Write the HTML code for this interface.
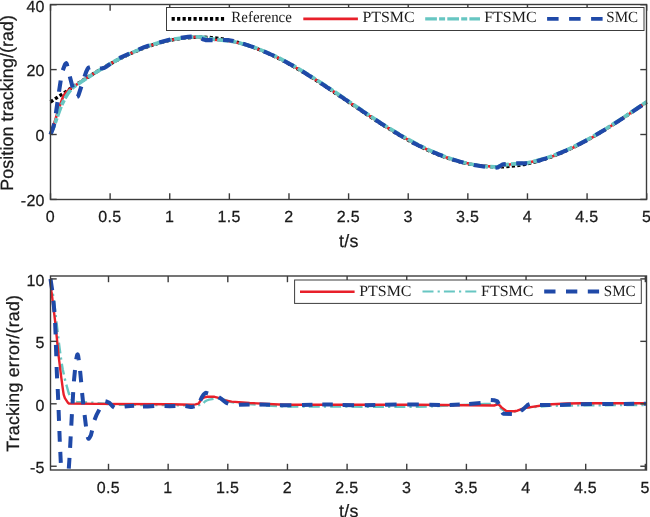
<!DOCTYPE html>
<html><head><meta charset="utf-8"><style>
html,body{margin:0;padding:0;background:#fff;width:650px;height:517px;overflow:hidden}
svg{display:block;filter:blur(0.35px)}
</style></head><body>
<svg width="650" height="517" viewBox="0 0 650 517" style="text-rendering:geometricPrecision">
<defs>
<clipPath id="ct"><rect x="48.0" y="3.5" width="601.00" height="197.00"/></clipPath>
<clipPath id="cb"><rect x="48.0" y="275.0" width="601.00" height="195.00"/></clipPath>
</defs>
<rect width="650" height="517" fill="#fff"/>
<!-- top curves -->
<g clip-path="url(#ct)" fill="none" stroke-linejoin="round">
<polyline points="50.5,102.0 78.0,83.5 88.6,76.7 98.3,70.7 107.8,65.2 116.8,60.3 125.6,55.9 134.0,52.0 142.3,48.6 150.7,45.6 159.0,43.0 167.4,40.8 175.7,39.2 183.5,38.1 191.8,37.4 199.5,37.1 207.9,37.4 216.8,38.2 225.2,39.5 234.1,41.4 242.5,43.7 251.4,46.6 260.4,50.0 269.9,54.2 278.8,58.5 287.8,63.2 297.3,68.7 306.9,74.4 326.5,87.1 365.3,113.4 380.8,123.6 397.5,134.0 412.4,142.5 421.3,147.1 429.7,151.0 438.0,154.6 445.8,157.5 454.1,160.2 461.9,162.4 469.6,164.1 477.4,165.5 486.9,166.5 495.9,166.9 504.8,166.8 514.3,165.9 523.9,164.5 533.4,162.4 543.0,159.7 552.5,156.4 562.0,152.6 572.2,147.9 582.3,142.8 593.0,136.8 603.8,130.4 615.7,122.9 646.7,102.1" stroke="#000" stroke-width="3.4" stroke-dasharray="3.2 2.28"/>
<polyline points="50.5,134.5 51.5,130.5 55.2,120.2 58.8,108.5 63.1,96.8 63.8,95.4 64.9,93.7 69.0,89.6 88.2,76.9 105.3,66.6 113.3,62.1 121.0,58.1 128.6,54.4 135.8,51.2 142.9,48.3 150.1,45.7 157.2,43.4 163.8,41.6 170.9,40.0 178.7,38.6 185.2,37.7 191.8,37.1 198.4,37.2 201.3,38.3 204.3,38.9 213.3,39.7 225.2,40.4 234.1,41.9 242.5,44.0 251.4,46.8 260.4,50.1 269.9,54.1 278.8,58.3 287.2,62.7 296.7,68.1 306.9,74.2 326.5,86.8 365.3,113.1 380.8,123.4 397.5,133.8 412.4,142.2 421.3,146.8 429.7,150.7 438.0,154.2 445.8,157.2 454.1,159.9 461.9,162.0 469.6,163.7 477.4,165.1 486.9,166.1 497.6,166.8 498.8,166.7 506.6,164.8 523.9,163.3 531.0,162.1 543.6,159.1 548.9,157.5 554.3,155.7 563.8,151.8 573.4,147.5 582.9,142.6 593.0,137.0 603.8,130.6 615.7,123.0 646.7,102.2" stroke="#e8202a" stroke-width="2.6"/>
<path d="M50.5 134.5L51.9 131.0 53.6 127.5 54.5 125.0M55.1 123.2L56.8 118.2M57.4 116.3L61.0 106.7M61.7 104.9L64.1 100.1M65.0 98.4L68.4 92.9 70.7 89.9M72.0 88.4L73.2 87.3 76.2 85.2M77.8 84.1L86.4 78.5M88.0 77.4L92.5 74.6M94.1 73.5L104.2 67.3M106.1 66.2L111.4 63.1M113.3 62.0L123.4 56.7M125.3 55.8L130.6 53.3M132.5 52.4L143.4 47.9M145.5 47.1L151.2 45.1M153.3 44.4L164.2 41.3M166.3 40.8L172.0 39.5M174.1 39.1L185.4 37.5M187.6 37.3L193.4 36.9M195.6 36.8L203.1 37.1 204.3 37.7 207.0 38.2M209.1 38.6L215.0 39.3M217.2 39.6L228.7 40.8M230.8 41.1L236.6 42.3M238.7 42.8L249.8 45.9M251.9 46.6L257.5 48.6M259.5 49.4L269.9 53.7M271.9 54.6L277.1 57.0M279.0 58.0L289.1 63.3M291.0 64.3L296.0 67.2M297.9 68.3L308.2 74.5M310.1 75.7L315.3 79.0M317.2 80.2L326.5 86.4M328.3 87.5L333.1 90.7M334.8 91.9L344.6 98.6M346.4 99.8L351.5 103.2M353.3 104.5L362.7 110.9M364.4 112.0L369.2 115.3M371.0 116.5L380.7 122.8M382.6 124.0L387.6 127.2M389.5 128.4L399.2 134.2M401.0 135.3L406.0 138.2M407.9 139.2L418.0 144.7M420.0 145.6L425.2 148.2M427.2 149.2L438.1 154.0M440.1 154.8L445.8 157.0M447.9 157.8L458.8 161.2M460.9 161.8L466.6 163.2M468.7 163.7L480.0 165.7M482.2 166.0L488.0 166.6M490.2 166.7L494.7 166.9 497.1 166.8 498.2 166.6 501.2 165.6M503.2 165.2L508.9 164.4M511.0 164.2L522.9 163.3M525.1 163.2L531.1 162.1M533.3 161.6L544.4 158.6M546.5 158.0L552.1 156.1M554.1 155.3L564.8 150.9M566.8 150.0L572.2 147.5M574.2 146.5L584.5 141.2M586.4 140.2L591.6 137.3M593.5 136.2L603.4 130.3M605.2 129.2L610.2 126.1M612.0 124.9L621.9 118.5M623.8 117.2L628.9 113.9M630.7 112.6L640.4 106.0M642.2 104.8L646.7 101.7" stroke="#67c6c2" stroke-width="3.7"/>
<path d="M50.5 134.5L52.6 129.3 54.3 123.7M55.9 113.4L57.5 102.1M59.0 91.8L60.7 80.5M62.8 70.3L64.6 65.5 65.2 64.1 65.9 63.4 66.2 63.2 66.6 63.7 67.4 66.4M69.8 76.5L72.7 87.6M77.1 96.8L77.8 96.5 78.5 95.1 81.3 86.5M84.5 76.6L86.4 71.3 87.8 68.5 88.5 67.7 90.0 67.2M100.0 68.5L102.8 68.2 104.5 67.7 107.1 66.2 110.3 63.8M119.2 58.2L129.3 53.6M138.5 49.6L144.1 47.2 149.2 45.4M159.2 42.4L165.6 40.7 170.4 39.5M180.8 37.9L188.2 36.9 191.8 36.6M201.5 38.7L203.7 39.6 205.5 40.1 212.6 40.1M223.0 40.0L227.6 40.1 233.6 41.1M243.0 43.6L254.0 47.4M263.8 51.3L274.4 56.0M283.8 60.7L293.6 66.1M302.3 71.3L312.0 77.4M320.8 83.1L330.4 89.5M339.2 95.4L348.9 101.9M357.7 107.9L366.9 114.1M375.4 119.8L385.0 126.0M393.8 131.6L403.4 137.3M412.3 142.3L422.7 147.5M432.3 151.9L442.7 156.0M452.3 159.4L463.4 162.6M473.8 164.9L485.1 166.8M495.4 167.8L497.6 167.5 501.8 164.9 503.0 164.3 505.8 164.1M516.2 163.3L521.5 163.2 527.2 163.4M536.9 161.2L547.4 157.9M556.9 154.4L567.6 149.9M577.2 145.3L587.0 140.1M595.8 135.1L605.6 129.2M614.5 123.6L623.8 117.6M632.2 111.9L641.7 105.5" stroke="#1f49a8" stroke-width="4.1"/>
</g>
<!-- bottom curves -->
<g clip-path="url(#cb)" fill="none" stroke-linejoin="round">
<polyline points="50.5,278.9 51.9,288.7 53.8,299.0 59.2,345.2 61.2,360.1 62.7,369.2 65.3,380.9 68.6,392.8 69.6,395.4 70.9,398.3 72.5,400.9 73.3,401.6 77.0,402.0 89.0,402.4 112.1,404.3 119.7,404.8 194.8,405.3 199.0,405.0 203.1,404.0 204.3,402.1 204.9,401.6 206.7,400.5 209.1,399.6 213.9,398.8 218.0,398.6 220.4,398.8 224.0,399.6 230.0,401.9 238.3,403.2 271.7,405.9 280.6,406.3 289.0,406.5 414.8,406.8 432.7,406.3 484.5,404.0 494.1,403.8 495.9,404.1 497.6,404.7 498.8,405.8 501.2,408.7 502.4,409.7 506.6,411.4 509.6,411.9 513.7,411.6 519.1,410.7 520.3,410.3 523.9,408.4 526.3,407.8 531.0,407.3 549.5,405.8 575.2,405.4 646.7,405.0" stroke="#67c6c2" stroke-width="2.4" stroke-dasharray="11 4.1 2.2 4.1"/>
<polyline points="50.5,278.9 51.5,291.7 55.2,321.8 58.7,356.7 61.0,375.4 63.1,390.8 63.7,394.6 64.9,398.2 68.0,402.8 68.9,403.5 96.4,403.9 170.3,404.2 192.4,404.8 195.4,404.4 198.4,403.6 199.0,403.0 201.3,399.4 202.5,398.4 204.3,397.4 207.3,396.8 212.1,396.6 214.5,396.8 218.6,397.9 225.2,400.5 231.7,401.6 249.6,403.0 284.2,404.7 416.0,404.8 494.1,405.5 497.6,404.4 498.2,404.5 499.4,405.2 501.8,407.6 506.0,410.8 507.2,411.2 514.3,411.2 517.3,410.7 523.3,408.5 525.7,407.9 546.5,404.8 551.9,404.2 567.4,403.5 581.1,403.2 646.7,403.2" stroke="#e8202a" stroke-width="2.4"/>
<path d="M50.5 278.9L52.2 290.2M53.4 300.8L54.4 312.2M55.1 322.8L55.6 334.3M55.9 344.9L56.3 356.3M56.6 367.0L57.1 378.4M57.7 389.0L58.2 399.9M58.6 410.0L59.0 420.9M59.4 431.0L59.8 441.8M60.3 451.9L60.8 462.8M61.4 472.9L62.0 483.7M62.8 493.8L64.1 504.6M66.4 510.6L67.3 499.8M67.8 489.7L68.3 478.8M68.8 468.7L69.5 457.9M70.1 447.8L70.7 436.3M71.3 425.7L71.9 414.2M72.6 403.5L73.2 392.1M73.9 381.4L75.0 370.0M76.2 359.4L77.0 355.4 77.3 354.6 77.6 354.3 78.2 355.9 78.8 360.3M80.1 370.9L81.2 382.3M82.1 393.0L83.3 404.4M84.6 415.0L86.0 426.4M87.7 436.9L88.1 438.3 88.4 438.8 88.9 438.6 89.5 437.8 90.9 435.2 92.1 430.4M94.5 420.0L96.7 414.6 99.3 409.6M105.4 401.3L107.1 401.7 109.4 402.8 112.9 406.6 114.3 407.5M124.6 406.6L130.4 405.9 134.1 405.7M143.0 406.4L147.7 406.5 154.2 405.9M164.6 406.0L169.7 406.3 175.4 406.0M185.4 406.1L190.6 406.9 192.4 406.9 194.6 406.4M200.3 400.6L201.9 397.1 203.7 394.5 204.9 393.3 205.5 392.9 206.1 392.8 208.1 393.4M218.8 397.1L221.0 398.6 225.8 402.5 227.0 403.1 228.3 403.6M239.0 404.8L249.6 404.5M259.5 404.5L270.1 404.8M279.9 405.2L291.4 405.3M302.0 405.0L312.5 404.7M322.3 404.4L332.8 404.5M342.6 404.9L354.1 405.2M364.8 405.3L375.3 405.1M385.1 404.8L396.6 404.6M407.3 404.4L418.8 404.6M429.4 404.8L439.9 405.0M449.7 405.0L459.8 404.5M469.2 404.0L480.6 403.0M490.8 400.1L494.1 400.3 497.1 401.1 497.6 401.7 498.7 404.1M502.3 412.4L503.0 413.5 503.6 413.8 511.9 414.0M520.8 410.9L522.7 409.6 527.5 405.1 528.7 404.4 529.6 404.1M540.0 405.0L550.4 405.0M560.0 404.9L570.8 404.5M580.8 404.3L591.9 404.1M602.3 404.0L613.4 403.9M623.8 403.9L634.2 403.8M643.8 403.8L646.7 403.8" stroke="#1f49a8" stroke-width="4"/>
</g>
<!-- axes -->
<g stroke="#3c3c3c" stroke-width="1.4" fill="none">
<rect x="50.5" y="4.5" width="596.00" height="195.00"/>
<rect x="50.5" y="276.0" width="596.00" height="194.00"/>
<line x1="50.50" y1="199.5" x2="50.50" y2="193.30"/>
<line x1="50.50" y1="4.5" x2="50.50" y2="10.70"/>
<line x1="110.12" y1="199.5" x2="110.12" y2="193.30"/>
<line x1="110.12" y1="4.5" x2="110.12" y2="10.70"/>
<line x1="169.74" y1="199.5" x2="169.74" y2="193.30"/>
<line x1="169.74" y1="4.5" x2="169.74" y2="10.70"/>
<line x1="229.36" y1="199.5" x2="229.36" y2="193.30"/>
<line x1="229.36" y1="4.5" x2="229.36" y2="10.70"/>
<line x1="288.98" y1="199.5" x2="288.98" y2="193.30"/>
<line x1="288.98" y1="4.5" x2="288.98" y2="10.70"/>
<line x1="348.60" y1="199.5" x2="348.60" y2="193.30"/>
<line x1="348.60" y1="4.5" x2="348.60" y2="10.70"/>
<line x1="408.22" y1="199.5" x2="408.22" y2="193.30"/>
<line x1="408.22" y1="4.5" x2="408.22" y2="10.70"/>
<line x1="467.84" y1="199.5" x2="467.84" y2="193.30"/>
<line x1="467.84" y1="4.5" x2="467.84" y2="10.70"/>
<line x1="527.46" y1="199.5" x2="527.46" y2="193.30"/>
<line x1="527.46" y1="4.5" x2="527.46" y2="10.70"/>
<line x1="587.08" y1="199.5" x2="587.08" y2="193.30"/>
<line x1="587.08" y1="4.5" x2="587.08" y2="10.70"/>
<line x1="646.70" y1="199.5" x2="646.70" y2="193.30"/>
<line x1="646.70" y1="4.5" x2="646.70" y2="10.70"/>
<line x1="50.5" y1="199.40" x2="56.70" y2="199.40"/>
<line x1="646.5" y1="199.40" x2="640.30" y2="199.40"/>
<line x1="50.5" y1="134.50" x2="56.70" y2="134.50"/>
<line x1="646.5" y1="134.50" x2="640.30" y2="134.50"/>
<line x1="50.5" y1="69.60" x2="56.70" y2="69.60"/>
<line x1="646.5" y1="69.60" x2="640.30" y2="69.60"/>
<line x1="50.5" y1="4.70" x2="56.70" y2="4.70"/>
<line x1="646.5" y1="4.70" x2="640.30" y2="4.70"/>
<line x1="108.50" y1="470.0" x2="108.50" y2="463.80"/>
<line x1="108.50" y1="276.0" x2="108.50" y2="282.20"/>
<line x1="168.15" y1="470.0" x2="168.15" y2="463.80"/>
<line x1="168.15" y1="276.0" x2="168.15" y2="282.20"/>
<line x1="227.80" y1="470.0" x2="227.80" y2="463.80"/>
<line x1="227.80" y1="276.0" x2="227.80" y2="282.20"/>
<line x1="287.45" y1="470.0" x2="287.45" y2="463.80"/>
<line x1="287.45" y1="276.0" x2="287.45" y2="282.20"/>
<line x1="347.10" y1="470.0" x2="347.10" y2="463.80"/>
<line x1="347.10" y1="276.0" x2="347.10" y2="282.20"/>
<line x1="406.75" y1="470.0" x2="406.75" y2="463.80"/>
<line x1="406.75" y1="276.0" x2="406.75" y2="282.20"/>
<line x1="466.40" y1="470.0" x2="466.40" y2="463.80"/>
<line x1="466.40" y1="276.0" x2="466.40" y2="282.20"/>
<line x1="526.05" y1="470.0" x2="526.05" y2="463.80"/>
<line x1="526.05" y1="276.0" x2="526.05" y2="282.20"/>
<line x1="585.70" y1="470.0" x2="585.70" y2="463.80"/>
<line x1="585.70" y1="276.0" x2="585.70" y2="282.20"/>
<line x1="645.35" y1="470.0" x2="645.35" y2="463.80"/>
<line x1="645.35" y1="276.0" x2="645.35" y2="282.20"/>
<line x1="50.5" y1="466.25" x2="56.70" y2="466.25"/>
<line x1="646.5" y1="466.25" x2="640.30" y2="466.25"/>
<line x1="50.5" y1="403.80" x2="56.70" y2="403.80"/>
<line x1="646.5" y1="403.80" x2="640.30" y2="403.80"/>
<line x1="50.5" y1="341.35" x2="56.70" y2="341.35"/>
<line x1="646.5" y1="341.35" x2="640.30" y2="341.35"/>
<line x1="50.5" y1="278.90" x2="56.70" y2="278.90"/>
<line x1="646.5" y1="278.90" x2="640.30" y2="278.90"/>
</g>
<g font-family="'Liberation Sans', Arial, sans-serif" font-size="16" letter-spacing="0.3" fill="#1a1a1a" stroke="#1a1a1a" stroke-width="0.25">
<text x="50.30" y="222.2" text-anchor="middle">0</text>
<text x="109.92" y="222.2" text-anchor="middle">0.5</text>
<text x="169.54" y="222.2" text-anchor="middle">1</text>
<text x="229.16" y="222.2" text-anchor="middle">1.5</text>
<text x="288.78" y="222.2" text-anchor="middle">2</text>
<text x="348.40" y="222.2" text-anchor="middle">2.5</text>
<text x="408.02" y="222.2" text-anchor="middle">3</text>
<text x="467.64" y="222.2" text-anchor="middle">3.5</text>
<text x="527.26" y="222.2" text-anchor="middle">4</text>
<text x="586.88" y="222.2" text-anchor="middle">4.5</text>
<text x="646.50" y="222.2" text-anchor="middle">5</text>
<text x="44.8" y="206.20" text-anchor="end">-20</text>
<text x="44.8" y="141.30" text-anchor="end">0</text>
<text x="44.8" y="76.40" text-anchor="end">20</text>
<text x="44.8" y="11.50" text-anchor="end">40</text>
<text x="108.30" y="492.6" text-anchor="middle">0.5</text>
<text x="167.95" y="492.6" text-anchor="middle">1</text>
<text x="227.60" y="492.6" text-anchor="middle">1.5</text>
<text x="287.25" y="492.6" text-anchor="middle">2</text>
<text x="346.90" y="492.6" text-anchor="middle">2.5</text>
<text x="406.55" y="492.6" text-anchor="middle">3</text>
<text x="466.20" y="492.6" text-anchor="middle">3.5</text>
<text x="525.85" y="492.6" text-anchor="middle">4</text>
<text x="585.50" y="492.6" text-anchor="middle">4.5</text>
<text x="645.15" y="492.6" text-anchor="middle">5</text>
<text x="44.8" y="473.05" text-anchor="end">-5</text>
<text x="44.8" y="410.60" text-anchor="end">0</text>
<text x="44.8" y="348.15" text-anchor="end">5</text>
<text x="44.8" y="285.70" text-anchor="end">10</text>
</g>
<g font-family="'Liberation Sans', Arial, sans-serif" font-size="17.8" fill="#1a1a1a" stroke="#1a1a1a" stroke-width="0.25">
<text x="348.8" y="247" text-anchor="middle" letter-spacing="0.3">t/s</text>
<text x="348.8" y="516.5" text-anchor="middle" letter-spacing="0.3">t/s</text>
<text transform="translate(12.8,102.8) rotate(-90)" text-anchor="middle" letter-spacing="0.13">Position tracking/(rad)</text>
<text transform="translate(18.9,373.3) rotate(-90)" text-anchor="middle" letter-spacing="0.22">Tracking error/(rad)</text>
</g>
<!-- legends -->
<g>
<rect x="166.5" y="7.5" width="477.5" height="23" fill="#fff" stroke="#3c3c3c" stroke-width="1"/>
<line x1="171.6" y1="18.9" x2="224.1" y2="18.9" stroke="#000" stroke-width="3.6" stroke-dasharray="3.2 2.28"/>
<line x1="303.3" y1="18.9" x2="357.9" y2="18.9" stroke="#e8202a" stroke-width="2.6"/>
<line x1="425.2" y1="18.9" x2="480" y2="18.9" stroke="#67c6c2" stroke-width="3.4" stroke-dasharray="11.7 2.2 6 2.2"/>
<line x1="547.1" y1="18.9" x2="603" y2="18.9" stroke="#1f49a8" stroke-width="3.8" stroke-dasharray="11.5 10.5"/>
<rect x="294.6" y="280" width="346.7" height="23.4" fill="#fff" stroke="#3c3c3c" stroke-width="1"/>
<line x1="300" y1="291.7" x2="354.6" y2="291.7" stroke="#e8202a" stroke-width="2.6"/>
<line x1="422.5" y1="291.6" x2="477" y2="291.6" stroke="#67c6c2" stroke-width="2" stroke-dasharray="11 4.1 2.2 4.1"/>
<line x1="544.2" y1="291.5" x2="600" y2="291.5" stroke="#1f49a8" stroke-width="3.8" stroke-dasharray="11.3 10.5"/>
</g>
<g font-family="'Liberation Serif', 'Times New Roman', serif" font-size="15.5" fill="#1a1a1a">
<text x="231.3" y="22.3" textLength="60.6" lengthAdjust="spacingAndGlyphs">Reference</text>
<text x="362.4" y="22.3" textLength="52.3" lengthAdjust="spacingAndGlyphs">PTSMC</text>
<text x="484.2" y="22.3" textLength="52.4" lengthAdjust="spacingAndGlyphs">FTSMC</text>
<text x="606.3" y="22.3" textLength="31.8" lengthAdjust="spacingAndGlyphs">SMC</text>
<text x="359.2" y="295.5" textLength="52.3" lengthAdjust="spacingAndGlyphs">PTSMC</text>
<text x="481" y="295.5" textLength="52.4" lengthAdjust="spacingAndGlyphs">FTSMC</text>
<text x="603.8" y="295.5" textLength="31.8" lengthAdjust="spacingAndGlyphs">SMC</text>
</g>
</svg>
</body></html>
